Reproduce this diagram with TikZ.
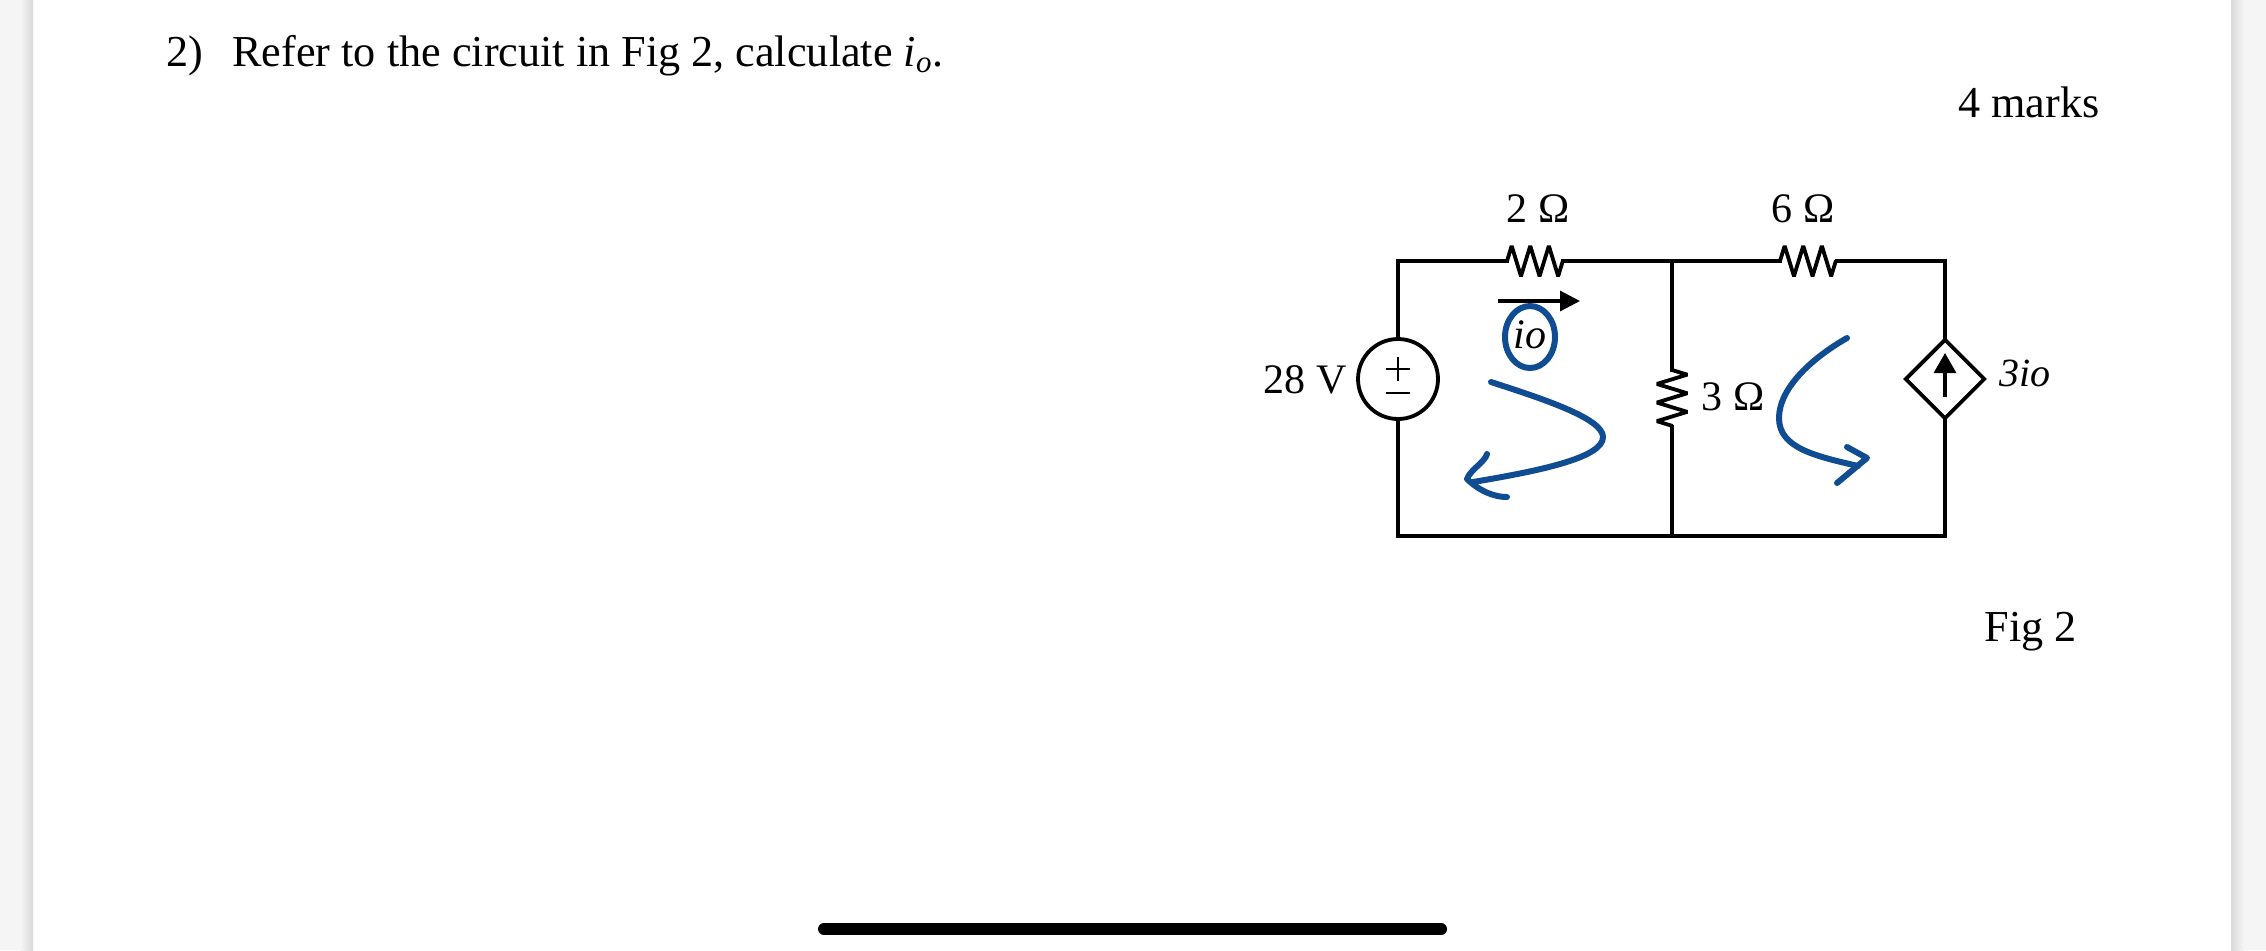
\documentclass[tikz,border=0pt]{standalone}
\usepackage{fontspec}
\setmainfont{Liberation Serif}
\usetikzlibrary{arrows.meta,decorations.pathmorphing,shapes.geometric}
\definecolor{penblue}{HTML}{0F4C92}
\definecolor{sidegray}{HTML}{F5F5F5}
\definecolor{sidedark}{HTML}{D9D9D9}
\begin{document}
\begin{tikzpicture}[x=0.5pt,y=-0.5pt,
	wire/.style={line width=1.9pt,line cap=rect},
	res/.style={line width=1.9pt,line join=bevel,decorate,decoration={zigzag,segment length=9.3pt,amplitude=7.6pt}},
	pen/.style={draw=penblue,line width=3pt,line cap=round,line join=round},
	lbl/.style={inner sep=0pt,font=\fontsize{21}{24}\selectfont},
	big/.style={inner sep=0pt,font=\fontsize{22.1}{24}\selectfont}]
	\useasboundingbox (0,0) rectangle (2266,950);
	\fill[sidegray] (0,0) rectangle (20,950);
	\shade[left color=sidegray,right color=sidedark] (20,0) rectangle (33,950);
	\shade[left color=sidedark,right color=sidegray] (2231,0) rectangle (2244,950);
	\fill[sidegray] (2244,0) rectangle (2266,950);
	\node[big,anchor=base west] (num) at (166,66) {2)};
	\node[big,anchor=base west] (question) at (232,66) {Refer to the circuit in Fig 2, calculate \textit{i\textsubscript{o}}.};
	\node[big] (marks) at (2029,102) {4 marks};
	\node[big] (fig) at (2031,632) {Fig 2};

	\coordinate (TL) at (1398,261);
	\coordinate (TM) at (1672,261);
	\coordinate (TR) at (1945,261);
	\coordinate (BL) at (1398,536);
	\coordinate (BM) at (1672,536);
	\coordinate (BR) at (1945,536);
	\coordinate (R2a) at (1507,261);
	\coordinate (R2b) at (1563,261);
	\coordinate (R6a) at (1780,261);
	\coordinate (R6b) at (1837,261);
	\coordinate (R3a) at (1672,370);
	\coordinate (R3b) at (1672,427);
	\node[draw,circle,line width=1.9pt,minimum size=40pt,inner sep=0pt] (src) at (1398,379) {};
	\node[draw,diamond,line width=1.9pt,minimum size=40pt,inner sep=0pt] (dep) at (1945,379) {};

	\draw[wire] (src) -- (TL) -- (R2a);
	\draw[res] (R2a) -- (R2b);
	\draw[wire] (R2b) -- (TM) -- (R6a);
	\draw[res] (R6a) -- (R6b);
	\draw[wire] (R6b) -- (TR) -- (dep);
	\draw[wire] (src) -- (BL) -- (BM) -- (BR) -- (dep);
	\draw[wire] (TM) -- (R3a);
	\draw[res] (R3a) -- (R3b);
	\draw[wire] (R3b) -- (BM);

	% source signs and arrows
	\coordinate (plusa) at (1386,369);
	\coordinate (plusb) at (1410,369);
	\coordinate (plusc) at (1398,357);
	\coordinate (plusd) at (1398,381);
	\draw[line width=1.1pt] (plusa) -- (plusb) (plusc) -- (plusd);
	\coordinate (minusa) at (1386,393);
	\coordinate (minusb) at (1410,393);
	\draw[line width=1.1pt] (minusa) -- (minusb);
	\coordinate (depa) at (1945,397);
	\coordinate (depb) at (1945,353);
	\draw[line width=1.6pt,-{Triangle[length=10pt,width=11pt]}] (depa) -- (depb);
	\coordinate (ioa) at (1498,301);
	\coordinate (iob) at (1580,301);
	\draw[line width=1.6pt,-{Triangle[length=10pt,width=10pt]}] (ioa) -- (iob);

	\node[lbl] (l2) at (1538,209) {2 Ω};
	\node[lbl] (l6) at (1803,209) {6 Ω};
	\node[lbl] (l3) at (1733,397) {3 Ω};
	\node[lbl] (l28) at (1305,380) {28 V};
	\node[lbl] (lio) at (1530,335) {\textit{io}};
	\node[lbl,font=\fontsize{20}{24}\selectfont] (l3io) at (2025,373) {\textit{3io}};

	% pen marks
	\node[draw=penblue,line width=3pt,ellipse,minimum width=25pt,minimum height=31pt,inner sep=0pt] (ring) at (1530,337) {};
	\coordinate (La) at (1491,382);
	\coordinate (Lb) at (1603,437);
	\coordinate (Lc) at (1467,479);
	\coordinate (Lf) at (1473,482);
	\coordinate (Ld) at (1487,454);
	\coordinate (Le) at (1507,497);
	\draw[pen] (La) .. controls (1540,398) and (1603,418) .. (Lb)
		.. controls (1603,457) and (1545,470) .. (Lf);
	\draw[pen] (Ld) .. controls (1485,462) and (1470,470) .. (Lc) .. controls (1475,487) and (1490,497) .. (Le);
	\coordinate (Ra) at (1847,338);
	\coordinate (Rb) at (1779,418);
	\coordinate (Rf) at (1858,466);
	\coordinate (Rc) at (1867,458);
	\coordinate (Rd) at (1847,447);
	\coordinate (Re) at (1837,483);
	\draw[pen] (Ra) .. controls (1812,358) and (1779,388) .. (Rb)
		.. controls (1779,448) and (1815,456) .. (Rf);
	\draw[pen] (Rd) -- (Rc) -- (Re);
	\coordinate (barl) at (824,929);
	\coordinate (barr) at (1441,929);
	\draw[line width=6pt,line cap=round] (barl) -- (barr);
\end{tikzpicture}
\end{document}
